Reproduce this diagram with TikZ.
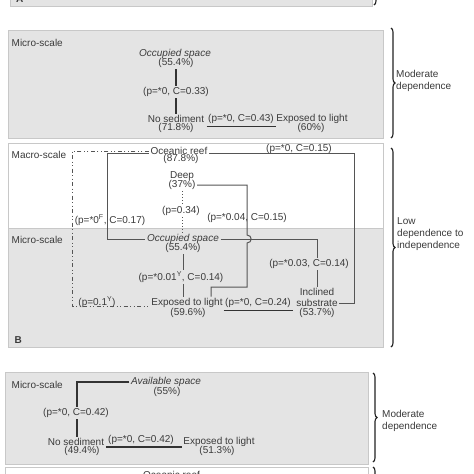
\documentclass[tikz,border=0pt]{standalone}
\usepackage{fontspec}
\setmainfont{Liberation Sans}
\usetikzlibrary{decorations.pathreplacing}
\definecolor{txt}{HTML}{3A3A3A}
\definecolor{panel}{HTML}{E4E4E4}
\definecolor{frame}{HTML}{C8C8C8}
\definecolor{ln}{HTML}{555555}
\definecolor{lnd}{HTML}{333333}
\definecolor{brc}{HTML}{222222}
\begin{document}
\begin{tikzpicture}[x=1pt,y=-1pt,
  lbl/.style={font=\fontsize{10}{9}\selectfont, text=txt, inner sep=1.5pt},
  itl/.style={lbl, font=\fontsize{10}{9}\selectfont\itshape},
  side/.style={font=\fontsize{10}{12}\selectfont, text=txt, align=left, anchor=west, inner sep=0pt},
  panelbox/.style={fill=panel, draw=frame, line width=0.8pt},
  whitebox/.style={fill=white, draw=frame, line width=0.8pt},
  thickln/.style={draw=lnd, line width=1.8pt},
  thinln/.style={draw=ln, line width=1pt},
  dotln/.style={draw=ln, line width=1pt, dash pattern=on 1pt off 2pt},
  dashdotln/.style={draw=ln, line width=1pt, dash pattern=on 4pt off 2.5pt on 1pt off 2.5pt on 1pt off 2.5pt},
  bracestyle/.style={draw=brc, line width=1.1pt, decorate, decoration={brace, amplitude=4pt}},
  uline/.style={draw=lnd, line width=1.2pt}]
\useasboundingbox (0,0) rectangle (474,474);
\clip (0,0) rectangle (474,474);
\fill[white] (0,0) rectangle (474,474);

% ---------- top partial panel (A) ----------
\draw[panelbox] (10,-20) rectangle (372,6);
\node[lbl, anchor=base west, inner sep=0pt, font=\fontsize{10}{9}\selectfont\bfseries] (labA) at (16,2.5) {A};
\draw[bracestyle] (374,-60) -- (374,5);

% ---------- panel 1 ----------
\draw[panelbox] (8,30) rectangle (383,138);
\node[lbl, anchor=west] (micro1) at (10,43) {Micro-scale};
\node[itl] (occ1) at (175,54) {Occupied space};
\node[lbl] (occ1p) at (176,63) {(55.4\%)};
\node[lbl] (p1) at (176,92) {(p=*0, C=0.33)};
\node[lbl] (ns1) at (176,119) {No sediment};
\node[lbl] (ns1p) at (176,128) {(71.8\%)};
\node[lbl] (p2) at (241,119) {(p=*0, C=0.43)};
\node[lbl] (ex1) at (312,119) {Exposed to light};
\node[lbl] (ex1p) at (311,128) {(60\%)};
\draw[thickln] (occ1p.south) -- (occ1p.south |- p1.north);
\draw[thickln] (p1.south -| occ1p.south) -- (occ1p.south |- ns1.north);
\draw[uline] ([yshift=-1pt]p2.south west) -- ([yshift=-1pt]p2.south east);
\draw[bracestyle] (391,28) -- (391,138);
\node[side] (mod1) at (396,81) {Moderate\\dependence};

% ---------- panel B ----------
\fill[panel] (8,228) rectangle (383,347);
\draw[frame, line width=0.8pt] (8,143) rectangle (383,347);
\draw[frame, line width=0.5pt] (8,228) -- (383,228);
\node[lbl, anchor=west] (macro) at (10,155) {Macro-scale};
\node[lbl, anchor=west] (micro2) at (10,240) {Micro-scale};
\node[lbl] (oce) at (179,151) {Oceanic reef};
\node[lbl] (ocep) at (181,159) {(87.8\%)};
\node[lbl] (pF) at (110,220) {(p=*0\textsuperscript{F}, C=0.17)};
\node[lbl] (deep) at (182,176) {Deep};
\node[lbl] (deepp) at (182,185) {(37\%)};
\node[lbl] (p34) at (181,211) {(p=0.34)};
\node[lbl] (p04) at (247,218) {(p=*0.04, C=0.15)};
\node[lbl] (p15) at (299,149) {(p=*0, C=0.15)};
\node[itl] (occ2) at (183,239) {Occupied space};
\node[lbl] (occ2p) at (183,248) {(55.4\%)};
\node[lbl] (p01) at (181,277) {(p=*0.01\textsuperscript{Y}, C=0.14)};
\node[lbl] (p03) at (309,264) {(p=*0.03, C=0.14)};
\node[lbl] (inc) at (317,292) {Inclined};
\node[lbl] (sub) at (317,303) {substrate};
\node[lbl] (subp) at (317,313) {(53.7\%)};
\node[lbl] (ex2) at (187,303) {Exposed to light};
\node[lbl] (ex2p) at (188,313) {(59.6\%)};
\node[lbl] (p24) at (258,303) {(p=*0, C=0.24)};
\node[lbl] (p1Y) at (97,302) {(p=0.1\textsuperscript{Y})};
\node[lbl, anchor=west, font=\fontsize{10}{9}\selectfont\bfseries] (labB) at (13,340) {B};

\coordinate (ddtop) at (72,151);
\coordinate (ddbot) at (72,306);
\coordinate (L) at (107,153);
\coordinate (R) at (354,153);
\coordinate (D) at (247,184);
\coordinate (D2) at (211,287);
\coordinate (V3) at (317,239);

\draw[dashdotln] (oce.west) -- (oce.west -| ddtop) -- (ddbot) -- (ddbot -| ex2.west);
\draw[thinln] ([yshift=-2pt]oce.west) -- ([yshift=-2pt]oce.west -| L) -- (L |- occ2.west) -- (occ2.west);
\draw[thinln] ([yshift=-2pt]oce.east) -- ([yshift=-2pt]oce.east -| R) -- (R |- sub.east) -- (sub.east);
\draw[thinln] (deepp.east) -- (deepp.east -| D) -- (247,235) .. controls (252.5,235) and (252.5,243) .. (247,243) -- (D |- D2) -- (D2) -- (D2 |- ex2.north);
\draw[dotln] (deepp.south) -- (deepp.south |- p34.north);
\draw[dotln] (deepp.south |- p34.south) -- (deepp.south |- occ2.north);
\draw[thinln] (occ2.east) -- (occ2.east -| V3) -- (V3 |- p03.north);
\draw[thinln] (V3 |- p03.south) -- (V3 |- inc.north);
\draw[thinln] (occ2p.south) -- (occ2p.south |- p01.north);
\draw[thinln] (occ2p.south |- p01.south) -- (occ2p.south |- ex2.north);
\draw[uline, line width=1pt] ([yshift=-1pt]p24.south west) -- ([yshift=-1pt]p24.south east);
\draw[bracestyle] (391,148) -- (391,347);
\node[side] (low) at (397,234) {Low\\dependence to\\independence};

% ---------- panel 3 ----------
\draw[panelbox] (5,372) rectangle (368,464);
\node[lbl, anchor=west] (micro3) at (10,385) {Micro-scale};
\node[itl] (av) at (166,382) {Available space};
\node[lbl] (avp) at (167,392) {(55\%)};
\node[lbl] (p3a) at (76,413) {(p=*0, C=0.42)};
\node[lbl] (ns3) at (76,442) {No sediment};
\node[lbl] (ns3p) at (82,451) {(49.4\%)};
\node[lbl] (p3b) at (141,440) {(p=*0, C=0.42)};
\node[lbl] (ex3) at (219,442) {Exposed to light};
\node[lbl] (ex3p) at (217,451) {(51.3\%)};
\coordinate (K) at (77,382);
\draw[thickln] (av.west) -- (av.west -| K) -- (K |- p3a.north);
\draw[thickln] (K |- p3a.south) -- (K |- ns3.north);
\draw[thickln] ([yshift=-5pt]ns3.east) -- ([yshift=-5pt]ns3.east -| ex3.west);
\draw[bracestyle] (373,373) -- (373,462);
\node[side] (mod3) at (382,421) {Moderate\\dependence};

% ---------- bottom partial panel ----------
\draw[whitebox] (5,467) rectangle (368,520);
\node[lbl, anchor=base west, inner sep=0pt] (oce4) at (143,478) {Oceanic reef};
\draw[bracestyle] (373,467) -- (373,540);
\end{tikzpicture}
\end{document}
